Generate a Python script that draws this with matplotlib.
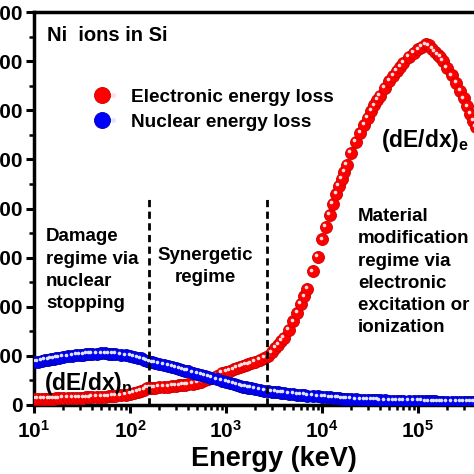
import matplotlib
matplotlib.use("Agg")
import matplotlib.pyplot as plt
from matplotlib.lines import Line2D
from matplotlib.legend_handler import HandlerTuple
import matplotlib.transforms as mtransforms

plt.rcParams['font.family'] = ['Liberation Sans', 'DejaVu Sans']
plt.rcParams['font.weight'] = 'bold'
plt.rcParams['mathtext.fontset'] = 'custom'
plt.rcParams['mathtext.rm'] = 'Liberation Sans:bold'
plt.rcParams['mathtext.it'] = 'Liberation Sans:bold'
plt.rcParams['mathtext.bf'] = 'Liberation Sans:bold'

# Energy grid (keV), SRIM style
energy = [10, 11, 12, 13, 14, 15, 16, 17, 18, 20, 22.5, 25, 27.5, 30, 32.5, 35, 37.5, 40, 45, 50, 55, 60, 65, 70, 80, 90,
          100, 110, 120, 130, 140, 150, 160, 170, 180, 200, 225, 250, 275, 300, 325, 350, 375, 400, 450, 500, 550, 600, 650, 700, 800, 900,
          1000, 1100, 1200, 1300, 1400, 1500, 1600, 1700, 1800, 2000, 2250, 2500, 2750, 3000, 3250, 3500, 3750, 4000, 4500, 5000, 5500, 6000, 6500, 7000, 8000, 9000,
          10000, 11000, 12000, 13000, 14000, 15000, 16000, 17000, 18000, 20000, 22500, 25000, 27500, 30000, 32500, 35000, 37500, 40000, 45000, 50000, 55000, 60000, 65000, 70000, 80000, 90000,
          100000, 110000, 120000, 130000, 140000, 150000, 160000, 170000, 180000, 200000, 225000, 250000, 275000, 300000, 325000, 350000, 375000, 400000, 450000]

electronic = [120, 122, 124, 126, 128, 130, 131, 133, 134, 137, 141, 144, 147, 150, 152, 154, 156, 158, 161, 165, 169, 174, 180, 186, 197, 208,
              220, 240, 262, 285, 315, 345, 350, 353, 356, 362, 368, 375, 384, 390, 397, 404, 411, 418, 432, 455, 478, 505, 535, 555, 600, 650,
              670, 700, 725, 750, 770, 790, 810, 826, 845, 880, 920, 955, 990, 1070, 1160, 1230, 1300, 1360, 1530, 1700, 1880, 2050, 2210, 2370, 2720, 3020,
              3370, 3620, 3870, 4100, 4300, 4460, 4610, 4750, 4880, 5130, 5350, 5540, 5700, 5850, 5980, 6100, 6210, 6300, 6450, 6590, 6700, 6800, 6890, 6960, 7080, 7170,
              7240, 7290, 7340, 7320, 7250, 7190, 7130, 7080, 7010, 6870, 6710, 6550, 6390, 6240, 6080, 5930, 5790, 5660, 5420]

nuclear = [870, 885, 900, 912, 924, 935, 945, 954, 962, 976, 990, 1002, 1012, 1020, 1027, 1033, 1038, 1042, 1047, 1050, 1050, 1048, 1043, 1038, 1025, 1010,
           995, 980, 965, 950, 920, 890, 878, 866, 855, 835, 812, 790, 770, 752, 735, 718, 702, 688, 660, 635, 612, 590, 570, 552, 520, 492,
           463, 446, 427, 410, 385, 374, 364, 355, 346, 330, 312, 295, 282, 273, 265, 257, 250, 243, 231, 220, 212, 205, 199, 193, 183, 175,
           167, 160, 154, 148, 142, 137, 132, 128, 124, 118, 113, 109, 106, 103, 101, 99, 97, 95, 92, 90, 88, 86, 85, 84, 82, 80,
           78, 76, 75, 74, 73, 72, 71, 70, 69, 67, 66, 64, 63, 62, 61, 60, 59, 58, 57]

regime_bounds = [158, 2670]
regime_top = 4200
y_ticks = [0, 1000, 2000, 3000, 4000, 5000, 6000, 7000, 8000]
x_ticks = [1e1, 1e2, 1e3, 1e4, 1e5]

RED = '#ff0000'
RED_EDGE = '#c80000'
BLUE = '#0000ff'
BLUE_EDGE = '#0000b0'
HI_RED = '#ffe0e0'
HI_BLUE = '#e0e6ff'

fig = plt.figure(figsize=(4.74, 4.74), dpi=100)
ax = fig.add_axes([34/474, (474-405)/474, 480/474, (405-12)/474])
ax.set_xscale('log')
ax.set_xlim(10, 1e6)
ax.set_ylim(0, 8000)

ms = 12 * 0.72
hl = 3.6 * 0.72
hi_off = mtransforms.offset_copy(ax.transData, fig=fig, x=-1.5, y=1.8, units='dots')

ax.plot(energy, electronic, 'o', ms=ms, mfc=RED, mec=RED_EDGE, mew=0.6, zorder=3)
ax.plot(energy, electronic, 'o', ms=hl, mfc=HI_RED, mec='none', transform=hi_off, zorder=3.1)
ax.plot(energy, nuclear, 'o', ms=ms, mfc=BLUE, mec=BLUE_EDGE, mew=0.6, zorder=4)
ax.plot(energy, nuclear, 'o', ms=hl, mfc=HI_BLUE, mec='none', transform=hi_off, zorder=4.1)

for b in regime_bounds:
    ax.plot([b, b], [0, regime_top], color='black', lw=2.0, ls=(0, (2.6, 1.6)), zorder=5)

for s in ax.spines.values():
    s.set_linewidth(2.5)
ax.set_xticks(x_ticks)
ax.tick_params(axis='both', which='major', direction='out', length=6, width=2.2, labelsize=15)
ax.tick_params(axis='both', which='minor', direction='out', length=3.5, width=1.8)
ax.tick_params(axis='x', which='major', pad=5)
ax.tick_params(axis='y', which='major', pad=2)
ax.set_yticks(y_ticks)
ax.set_yticks([500 + 1000*i for i in range(8)], minor=True)
ax.set_yticklabels([str(v) for v in y_ticks])
ax.set_xlabel('Energy (keV)', fontsize=19.5, fontweight='bold', labelpad=3)

# legend
h_e = (Line2D([], [], ls='none', marker='o', ms=16*0.72, mfc=RED, mec=RED_EDGE, mew=0.6),
       Line2D([], [], ls='none', marker='o', ms=5*0.72, mfc=HI_RED, mec='none'))
h_n = (Line2D([], [], ls='none', marker='o', ms=16*0.72, mfc=BLUE, mec=BLUE_EDGE, mew=0.6),
       Line2D([], [], ls='none', marker='o', ms=5*0.72, mfc=HI_BLUE, mec='none'))
leg = ax.legend([h_e, h_n], ['Electronic energy loss', 'Nuclear energy loss'],
                handler_map={tuple: HandlerTuple(ndivide=None)},
                loc='upper left', bbox_to_anchor=(0.105, 0.84), frameon=False,
                fontsize=13.7, handlelength=1.0, handletextpad=0.75, labelspacing=0.42,
                borderpad=0.2)

ax.text(0.027, 0.94, 'Ni  ions in Si', transform=ax.transAxes, fontsize=14.5,
        fontweight='bold', va='center', ha='left')
ax.text(0.723, 0.672, r'(dE/dx)$_\mathdefault{e}$', transform=ax.transAxes, fontsize=16.5,
        va='center', ha='left')
ax.text(0.02, 0.055, r'(dE/dx)$_\mathdefault{n}$', transform=ax.transAxes, fontsize=16.5,
        va='center', ha='left')
ax.text(0.025, 0.343, 'Damage\nregime via\nnuclear\nstopping', transform=ax.transAxes,
        fontsize=13.5, va='center', ha='left', linespacing=1.4)
ax.text(0.356, 0.352, 'Synergetic\nregime', transform=ax.transAxes,
        fontsize=13.5, va='center', ha='center', linespacing=1.4)
ax.text(0.675, 0.338, 'Material\nmodification\nregime via\nelectronic\nexcitation or\nionization',
        transform=ax.transAxes, fontsize=13.5, va='center', ha='left', linespacing=1.4)

fig.savefig('out.png', dpi=100)
